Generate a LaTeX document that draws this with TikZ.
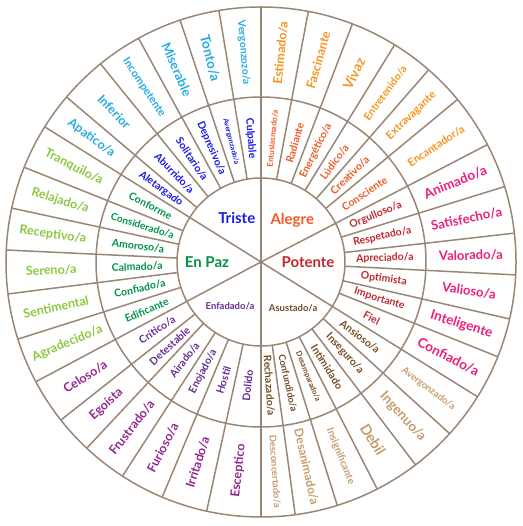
\documentclass[tikz,border=0pt]{standalone}
\usepackage{fontspec}
\setmainfont{Lato}

\definecolor{wheelgray}{RGB}{153,134,117}
\definecolor{tristeA}{RGB}{26,26,230}
\definecolor{tristeB}{RGB}{41,171,226}
\definecolor{pazA}{RGB}{0,146,69}
\definecolor{pazB}{RGB}{141,198,63}
\definecolor{enfadoA}{RGB}{102,45,145}
\definecolor{enfadoB}{RGB}{147,39,143}
\definecolor{miedoA}{RGB}{117,76,36}
\definecolor{miedoB}{RGB}{198,156,109}
\definecolor{potenteA}{RGB}{193,39,45}
\definecolor{potenteB}{RGB}{237,30,121}
\definecolor{alegreA}{RGB}{241,90,36}
\definecolor{alegreB}{RGB}{247,147,30}

\begin{document}
\begin{tikzpicture}[x=1pt, y=1pt,
	ring/.style={draw=wheelgray, line width=1.5pt},
	feel/.style={inner sep=0pt},
	coreword/.style={inner sep=0pt, font=\fontsize{15}{15}\selectfont\bfseries},
	smallcore/.style={inner sep=0pt, font=\fontsize{9.5}{10}\selectfont\bfseries}]
	\useasboundingbox (-261,-264) rectangle (261,262);
	% rings and spokes
	\draw [ring] (0,0) circle (84) (0,0) circle (165) (0,0) circle (255);
	\foreach \a in {90,148,208,270,328.1,387.4}
		\draw [ring] (0,0) -- (\a:255);
	\foreach \a in {99.5,108.5,118.7,129,139.7,158.2,167.8,177.3,187.2,197.6,218.3,226.9,237.1,247.2,257.7,277.7,287.4,297.1,307.3,317.7,338.2,347.1,357.1,366.5,377.2,399.6,408.9,418.4,429,439.3}
		\draw [ring] (\a:84) -- (\a:255);
	% core feelings
	\node [coreword, text=tristeA] (triste) at (119:50) {Triste};
	\node [coreword, text=alegreA] (alegre) at (53:52) {Alegre};
	\node [coreword, text=potenteA] (potente) at (0:47) {Potente};
	\node [smallcore, text=miedoA] (asustado) at (-55:56) {Asustado/a};
	\node [smallcore, text=enfadoA] (enfadado) at (235:54) {Enfadado/a};
	\node [coreword, text=pazA] (enpaz) at (180:54) {En Paz};
	% middle and outer feelings
	\foreach \a/\b/\s/\mw/\ms/\ow/\os [count=\i] in {
		90/99.5/triste/Culpable/10.5/{Vergonzozo/a}/10.5,
		99.5/108.5/triste/{Avergonzado/a}/7/{Tonto/a}/13.5,
		108.5/118.7/triste/{Depresivo/a}/10.5/Miserable/13,
		118.7/129/triste/{Solitario/a}/10.5/Incompetente/11,
		129/139.7/triste/{Aburrido/a}/10.5/Inferior/12.5,
		139.7/148/triste/Aletargado/10.5/{Apatico/a}/12.5,
		148/158.2/paz/Conforme/10.5/{Tranquilo/a}/12.5,
		158.2/167.8/paz/{Considerado/a}/10/{Relajado/a}/12.5,
		167.8/177.3/paz/{Amoroso/a}/10.5/{Receptivo/a}/12.5,
		177.3/187.2/paz/{Calmado/a}/10.5/{Sereno/a}/12.5,
		187.2/197.6/paz/{Confiado/a}/10.5/Sentimental/12.5,
		197.6/208/paz/Edificante/10.5/{Agradecido/a}/12.5,
		208/218.3/enfado/{Crítico/a}/10.5/{Celoso/a}/12.5,
		218.3/226.9/enfado/Detestable/10.5/Egoísta/12.5,
		226.9/237.1/enfado/{Airado/a}/10.5/{Frustrado/a}/12.5,
		237.1/247.2/enfado/{Enojado/a}/10.5/{Furioso/a}/12.5,
		247.2/257.7/enfado/Hostil/10.5/{Irritado/a}/12.5,
		257.7/270/enfado/Dolido/10.5/Esceptico/12.5,
		270/277.7/miedo/{Rechazado/a}/10.5/{Desconcertado/a}/9.5,
		277.7/287.4/miedo/{Confundido/a}/9.5/{Desanimado/a}/12,
		287.4/297.1/miedo/{Desamparado/a}/7.5/Insignificante/10,
		297.1/307.3/miedo/Intimidado/10.5/Debil/14.5,
		307.3/317.7/miedo/{Inseguro/a}/10.5/{Ingenuo/a}/13.5,
		317.7/328.1/miedo/{Ansioso/a}/10.5/{Avergonzado/a}/9.5,
		328.1/338.2/potente/Fiel/10.5/{Confiado/a}/13.5,
		338.2/347.1/potente/Importante/10.5/Inteligente/13.5,
		347.1/357.1/potente/Optimista/10.5/{Valioso/a}/13,
		357.1/366.5/potente/{Apreciado/a}/10.5/{Valorado/a}/13,
		366.5/377.2/potente/{Respetado/a}/10.5/{Satisfecho/a}/13,
		377.2/387.4/potente/{Orgulloso/a}/10.5/{Animado/a}/13.5,
		387.4/399.6/alegre/Consciente/10.5/{Encantador/a}/11,
		399.6/408.9/alegre/{Creativo/a}/10.5/Extravagante/11,
		408.9/418.4/alegre/{Lúdico/a}/10.5/{Entretenido/a}/10.5,
		418.4/429/alegre/{Energético/a}/10.5/Vivaz/13.5,
		429/439.3/alegre/Radiante/10.5/Fascinante/12.5,
		439.3/450/alegre/{Entusiasmado/a}/8/{Estimado/a}/12.5}
	{
		\pgfmathsetmacro\ang{(\a+\b)/2}
		\pgfmathsetmacro\rot{cos(\ang)<0 ? \ang+180 : \ang}
		\node [feel, text={\s A}, rotate=\rot, font=\fontsize{\ms}{\ms}\selectfont\bfseries] (mid\i) at (\ang:124) {\mw};
		\node [feel, text={\s B}, rotate=\rot, font=\fontsize{\os}{\os}\selectfont\bfseries] (out\i) at (\ang:210) {\ow};
	}
\end{tikzpicture}
\end{document}
